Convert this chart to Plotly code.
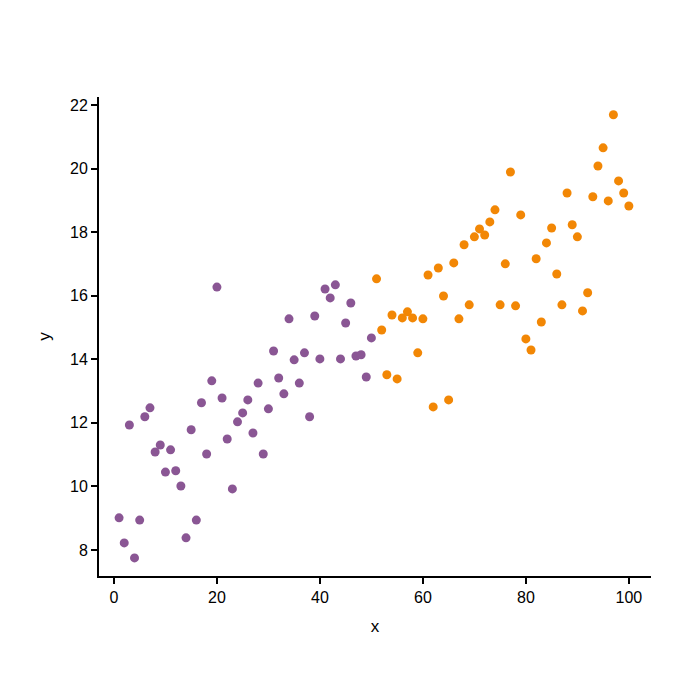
import plotly.graph_objects as go

x = list(range(1, 101))
y = [9.01, 8.22, 11.93, 7.75, 8.94, 12.19, 12.47, 11.08, 11.30, 10.45,
     11.15, 10.49, 10.01, 8.38, 11.78, 8.94, 12.63, 11.02, 13.32, 16.27,
     12.78, 11.49, 9.92, 12.03, 12.31, 12.72, 11.68, 13.25, 11.02, 12.44,
     14.26, 13.41, 12.91, 15.27, 13.98, 13.25, 14.20, 12.19, 15.36, 14.01,
     16.21, 15.93, 16.34, 14.01, 15.14, 15.77, 14.10, 14.14, 13.44, 14.67,
     16.53, 14.92, 13.51, 15.39, 13.38, 15.30, 15.49, 15.30, 14.20, 15.27,
     16.65, 12.50, 16.87, 15.99, 12.72, 17.03, 15.27, 17.60, 15.71, 17.85,
     18.10, 17.91, 18.32, 18.70, 15.71, 17.00, 19.89, 15.68, 18.54, 14.64,
     14.29, 17.16, 15.17, 17.66, 18.13, 16.68, 15.71, 19.23, 18.23, 17.85,
     15.52, 16.09, 19.11, 20.08, 20.65, 18.98, 21.69, 19.61, 19.23, 18.82]
colors = ["#8A5694" if xi <= 50 else "#F28705" for xi in x]

fig = go.Figure(go.Scatter(x=x, y=y, mode="markers",
                           marker=dict(color=colors, size=9, line=dict(width=0))))
axis = dict(showgrid=False, zeroline=False, showline=True, linecolor="black", linewidth=2,
            ticks="outside", ticklen=6, tickwidth=2, tickcolor="black",
            tickfont=dict(family="Liberation Sans, Arial", size=16, color="black"),
            title_font=dict(family="Liberation Sans, Arial", size=17, color="black"))
fig.update_layout(width=700, height=700, plot_bgcolor="white", paper_bgcolor="white",
                  margin=dict(l=91, r=57, t=89, b=132), showlegend=False,
                  xaxis=dict(axis, range=[-2.9, 104.3], tickvals=[0, 20, 40, 60, 80, 100], title_text="x"),
                  yaxis=dict(axis, range=[7.18, 22.25], tickvals=[8, 10, 12, 14, 16, 18, 20, 22], title_text="y"))
fig.write_html("out.html")
